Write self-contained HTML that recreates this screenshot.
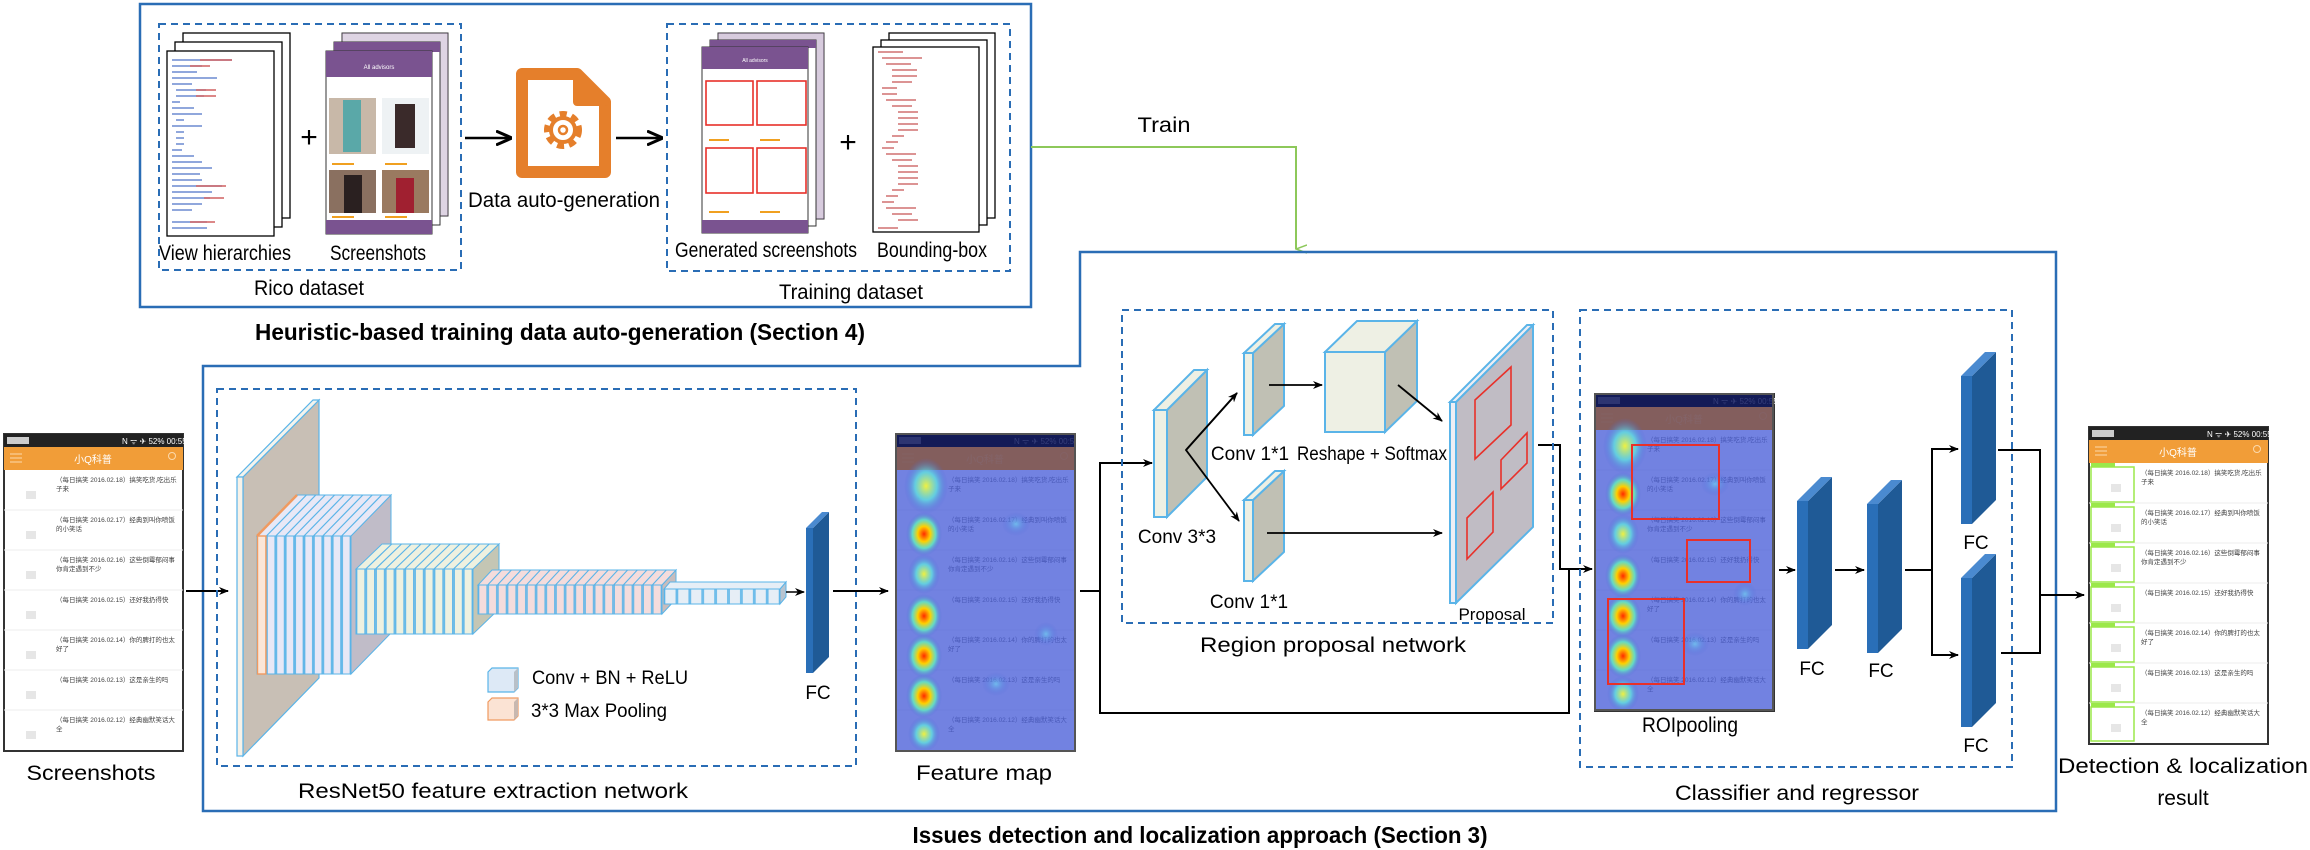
<!DOCTYPE html>
<html><head><meta charset="utf-8">
<style>
html,body{margin:0;padding:0;background:#fff;}
svg{display:block;}
text{font-family:"Liberation Sans","Noto Sans CJK SC",sans-serif;fill:#000;}
.lbl{font-size:21px;}
.pt{font-size:6.5px;fill:#444;font-family:"Liberation Sans","Noto Sans CJK SC",sans-serif;}
</style></head><body>
<svg width="2310" height="850" viewBox="0 0 2310 850" xmlns="http://www.w3.org/2000/svg">
<defs>
<marker id="ah" markerWidth="10" markerHeight="10" refX="9" refY="5" orient="auto" markerUnits="userSpaceOnUse">
<path d="M0,1 L10,5 L0,9 L3,5 z" fill="#000"/></marker>
<marker id="ahb" markerWidth="16" markerHeight="16" refX="15" refY="8" orient="auto" markerUnits="userSpaceOnUse">
<path d="M0,1 L16,8 L0,15" fill="none" stroke="#000" stroke-width="3"/></marker>
<marker id="ahg" markerWidth="10" markerHeight="12" refX="5" refY="11" orient="auto" markerUnits="userSpaceOnUse">
<path d="M1,0 L5,11 L9,0" fill="none" stroke="#8dc85a" stroke-width="1.5"/></marker>
<pattern id="p2" patternUnits="userSpaceOnUse" x="257" y="0" width="9.4" height="1000"><rect x="0" y="0" width="9.4" height="1000" fill="#e8e8f6"/><path d="M0.7,0V1000M8.7,0V1000" stroke="#5ab4e8" stroke-width="1.3"/></pattern>
<pattern id="p3" patternUnits="userSpaceOnUse" x="356" y="0" width="9.75" height="1000"><rect x="0" y="0" width="9.75" height="1000" fill="#eef1e0"/><path d="M0.7,0V1000M9,0V1000" stroke="#5ab4e8" stroke-width="1.3"/></pattern>
<pattern id="p4" patternUnits="userSpaceOnUse" x="478" y="0" width="9.68" height="1000"><rect x="0" y="0" width="9.68" height="1000" fill="#f4dcdc"/><path d="M0.7,0V1000M9,0V1000" stroke="#5ab4e8" stroke-width="1.2"/></pattern>
<pattern id="p5" patternUnits="userSpaceOnUse" x="664" y="0" width="12.9" height="1000"><rect x="0" y="0" width="12.9" height="1000" fill="#e6eef6"/><path d="M0.7,0V1000M12.2,0V1000" stroke="#5ab4e8" stroke-width="1.2"/></pattern>
<radialGradient id="hot"><stop offset="0" stop-color="#ff2a00"/><stop offset="0.35" stop-color="#ffd000"/><stop offset="0.65" stop-color="#60f0c0" stop-opacity="0.8"/><stop offset="1" stop-color="#4a5fd8" stop-opacity="0"/></radialGradient>
<radialGradient id="warm"><stop offset="0" stop-color="#f0f040"/><stop offset="0.5" stop-color="#60e0e0" stop-opacity="0.8"/><stop offset="1" stop-color="#4a5fd8" stop-opacity="0"/></radialGradient>
<radialGradient id="cool"><stop offset="0" stop-color="#70c8f0" stop-opacity="0.8"/><stop offset="1" stop-color="#4a5fd8" stop-opacity="0"/></radialGradient>

<g id="phone">
<rect x="0" y="0" width="179" height="317" fill="#fff" stroke="#333" stroke-width="2"/>
<rect x="0" y="0" width="179" height="13" fill="#222"/>
<rect x="3" y="3" width="22" height="7" fill="#ccc"/>
<text x="118" y="10" style="font-size:8px;fill:#fff">N ᯤ ✈ 52%  00:55</text>
<rect x="0" y="13" width="179" height="23" fill="#f19d38"/>
<text x="89" y="29" text-anchor="middle" style="font-size:10px;fill:#fff">小Q科普</text>
<path d="M6,20h12M6,24h12M6,28h12" stroke="#fbd9ac" stroke-width="1"/>
<circle cx="168" cy="22" r="3.5" fill="none" stroke="#fbd9ac"/>
<g stroke="#eee"><path d="M0,76h179M0,116h179M0,156h179M0,196h179M0,236h179M0,276h179"/></g>
<g fill="#e6e6e6"><rect x="22" y="57" width="10" height="8"/><rect x="22" y="97" width="10" height="8"/><rect x="22" y="137" width="10" height="8"/><rect x="22" y="177" width="10" height="8"/><rect x="22" y="217" width="10" height="8"/><rect x="22" y="257" width="10" height="8"/><rect x="22" y="297" width="10" height="8"/></g>
<text class="pt" x="52" y="48">（每日搞笑 2016.02.18）搞笑吃货,吃出乐</text><text class="pt" x="52" y="57">子来</text>
<text class="pt" x="52" y="88">（每日搞笑 2016.02.17）经典到叫你喷饭</text><text class="pt" x="52" y="97">的小笑话</text>
<text class="pt" x="52" y="128">（每日搞笑 2016.02.16）这些倒霉郁闷事</text><text class="pt" x="52" y="137">你肯定遇到不少</text>
<text class="pt" x="52" y="168">（每日搞笑 2016.02.15）还好我扔得快</text>
<text class="pt" x="52" y="208">（每日搞笑 2016.02.14）你的脾打的也太</text><text class="pt" x="52" y="217">好了</text>
<text class="pt" x="52" y="248">（每日搞笑 2016.02.13）这是亲生的吗</text>
<text class="pt" x="52" y="288">（每日搞笑 2016.02.12）经典幽默笑话大</text><text class="pt" x="52" y="297">全</text>
</g>
<g id="heat">
<rect x="0" y="13" width="179" height="304" fill="#4a5fd8" opacity="0.78"/>
<rect x="0" y="0" width="179" height="13" fill="#101a60" opacity="0.85"/>
<rect x="0" y="13" width="179" height="23" fill="#8a5a40" opacity="0.75"/>
<ellipse cx="30" cy="52" rx="22" ry="28" fill="url(#warm)"/>
<ellipse cx="28" cy="100" rx="18" ry="22" fill="url(#hot)"/>
<ellipse cx="28" cy="140" rx="16" ry="20" fill="url(#warm)"/>
<ellipse cx="28" cy="182" rx="18" ry="22" fill="url(#hot)"/>
<ellipse cx="28" cy="222" rx="18" ry="22" fill="url(#hot)"/>
<ellipse cx="28" cy="262" rx="18" ry="22" fill="url(#hot)"/>
<ellipse cx="28" cy="300" rx="16" ry="18" fill="url(#warm)"/>
<ellipse cx="120" cy="90" rx="14" ry="12" fill="url(#cool)"/>
<ellipse cx="150" cy="200" rx="12" ry="12" fill="url(#cool)"/>
<ellipse cx="100" cy="250" rx="14" ry="12" fill="url(#cool)"/>
</g>
</defs>

<!-- TOP BOX -->
<rect x="140" y="4" width="891" height="303" fill="none" stroke="#2a6db5" stroke-width="2.5"/>
<rect x="159" y="24" width="302" height="246" fill="none" stroke="#2a6db5" stroke-width="2" stroke-dasharray="7,5"/>
<rect x="667" y="24" width="343" height="247" fill="none" stroke="#2a6db5" stroke-width="2" stroke-dasharray="7,5"/>
<rect x="183" y="33" width="107" height="185" fill="#fff" stroke="#000" stroke-width="1.3"/>
<rect x="175" y="42" width="107" height="185" fill="#fff" stroke="#000" stroke-width="1.3"/>
<rect x="167" y="51" width="107" height="185" fill="#fff" stroke="#000" stroke-width="1.3"/>
<g stroke-width="1.5">
<path d="M172,60h60M172,66h30M172,72h25M172,78h45M172,84h20M176,90h30M176,96h28M172,102h8M172,108h22M172,114h30M176,120h8M172,126h30M176,132h8M176,138h8M176,144h8M172,150h10M172,156h22M172,162h30M172,168h40M172,174h28M172,180h30M172,186h50M172,192h40M172,198h38M172,204h30M172,210h20M172,222h35M172,228h35" stroke="#6b8ad0"/>
<path d="M200,60h32M190,66h20M196,90h20M196,96h20M196,186h30M204,198h20M190,222h25" stroke="#d06060"/>
</g>
<rect x="342" y="33" width="106" height="183" fill="#fff" stroke="#333"/><rect x="342" y="33" width="106" height="183" fill="#7a5390" opacity="0.25"/>
<rect x="334" y="42" width="106" height="183" fill="#fff" stroke="#333"/><rect x="334" y="42" width="106" height="10" fill="#7a5390"/>
<rect x="326" y="51" width="106" height="183" fill="#fff" stroke="#333"/>
<rect x="326" y="51" width="106" height="26" fill="#7a5390"/>
<text x="379" y="69" text-anchor="middle" style="font-size:6px;fill:#fff">All advisors</text>
<rect x="326" y="220" width="106" height="14" fill="#7a5390"/>
<rect x="329" y="98" width="47" height="56" fill="#c8b8a8"/><rect x="343" y="100" width="18" height="52" fill="#5aa8a8"/>
<rect x="382" y="98" width="47" height="56" fill="#eef2f4"/><rect x="395" y="104" width="20" height="44" fill="#3a2a2a"/>
<rect x="329" y="170" width="47" height="43" fill="#8a7060"/><rect x="344" y="175" width="18" height="38" fill="#2a2020"/>
<rect x="382" y="170" width="47" height="43" fill="#9a7a60"/><rect x="396" y="178" width="18" height="35" fill="#a02030"/>
<g fill="#f0a020"><rect x="332" y="163" width="22" height="2"/><rect x="385" y="163" width="22" height="2"/><rect x="332" y="216" width="22" height="2"/><rect x="385" y="216" width="22" height="2"/></g>
<text x="309" y="147" text-anchor="middle" style="font-size:30px">+</text>
<line x1="465" y1="138" x2="511" y2="138" stroke="#000" stroke-width="2.5" marker-end="url(#ahb)"/>
<path d="M522,74 h55 l28,28 v70 h-83 z" fill="#fff" stroke="#e57f2b" stroke-width="12" stroke-linejoin="round"/>
<path d="M577,74 v28 h28 z" fill="#e57f2b" stroke="#e57f2b" stroke-width="8" stroke-linejoin="round"/>
<circle cx="563" cy="130" r="16" fill="none" stroke="#e57f2b" stroke-width="6" stroke-dasharray="7,5"/>
<circle cx="563" cy="130" r="12" fill="none" stroke="#e57f2b" stroke-width="4"/>
<circle cx="563" cy="130" r="4" fill="none" stroke="#e57f2b" stroke-width="2.5"/>
<line x1="616" y1="138" x2="662" y2="138" stroke="#000" stroke-width="2.5" marker-end="url(#ahb)"/>
<text class="lbl" x="564" y="207" text-anchor="middle" textLength="192" lengthAdjust="spacingAndGlyphs">Data auto-generation</text>
<rect x="718" y="33" width="106" height="186" fill="#fff" stroke="#333"/><rect x="718" y="33" width="106" height="186" fill="#7a5390" opacity="0.3"/>
<rect x="710" y="40" width="106" height="186" fill="#fff" stroke="#333"/><rect x="710" y="40" width="106" height="8" fill="#7a5390"/>
<rect x="702" y="47" width="106" height="186" fill="#fff" stroke="#333"/>
<rect x="702" y="47" width="106" height="22" fill="#7a5390"/>
<text x="755" y="62" text-anchor="middle" style="font-size:5px;fill:#fff">All advisors</text>
<rect x="702" y="220" width="106" height="13" fill="#7a5390"/>
<g fill="none" stroke="#e8302a" stroke-width="1.6"><rect x="706" y="81" width="47" height="44"/><rect x="757" y="81" width="49" height="44"/><rect x="706" y="148" width="47" height="45"/><rect x="757" y="148" width="49" height="45"/></g>
<g fill="#f0a020"><rect x="709" y="139" width="20" height="2"/><rect x="760" y="139" width="20" height="2"/><rect x="709" y="211" width="20" height="2"/><rect x="760" y="211" width="20" height="2"/></g>
<text x="848" y="152" text-anchor="middle" style="font-size:30px">+</text>
<rect x="889" y="33" width="106" height="185" fill="#fff" stroke="#000" stroke-width="1.3"/>
<rect x="881" y="40" width="106" height="185" fill="#fff" stroke="#000" stroke-width="1.3"/>
<rect x="873" y="47" width="106" height="185" fill="#fff" stroke="#000" stroke-width="1.3"/>
<path d="M878,52h25M882,58h40M886,64h25M892,70h25M892,76h25M892,82h20M882,88h15M882,94h15M886,100h30M892,106h20M898,112h20M898,118h20M898,124h20M898,130h20M892,136h12M886,142h12M882,148h12M886,154h30M892,160h20M898,166h20M898,172h20M898,178h20M898,184h20M892,190h12M886,196h12M882,202h12M886,208h30M892,214h20M898,220h20M878,228h20" stroke="#d07070" stroke-width="1.4"/>
<text class="lbl" x="766" y="257" text-anchor="middle" textLength="182" lengthAdjust="spacingAndGlyphs">Generated screenshots</text>
<text class="lbl" x="932" y="257" text-anchor="middle" textLength="110" lengthAdjust="spacingAndGlyphs">Bounding-box</text>
<text class="lbl" x="225" y="260" text-anchor="middle" textLength="132" lengthAdjust="spacingAndGlyphs">View hierarchies</text>
<text class="lbl" x="378" y="260" text-anchor="middle" textLength="96" lengthAdjust="spacingAndGlyphs">Screenshots</text>
<text class="lbl" x="309" y="295" text-anchor="middle" textLength="110" lengthAdjust="spacingAndGlyphs">Rico dataset</text>
<text class="lbl" x="851" y="299" text-anchor="middle" textLength="144" lengthAdjust="spacingAndGlyphs">Training dataset</text>
<text x="560" y="340" text-anchor="middle" style="font-size:23px;font-weight:bold" textLength="610" lengthAdjust="spacingAndGlyphs">Heuristic-based training data auto-generation (Section 4)</text>

<text class="lbl" x="1164" y="132" text-anchor="middle" textLength="53" lengthAdjust="spacingAndGlyphs">Train</text>
<path d="M1031,147 H1296 V249" fill="none" stroke="#8dc85a" stroke-width="2" marker-end="url(#ahg)"/>

<path d="M203,366 H1080 V252 H2056 V811 H203 Z" fill="none" stroke="#2a6db5" stroke-width="2.5"/>
<text x="1200" y="843" text-anchor="middle" style="font-size:23px;font-weight:bold" textLength="575" lengthAdjust="spacingAndGlyphs">Issues detection and localization approach (Section 3)</text>

<use href="#phone" x="4" y="434"/>
<text class="lbl" x="91" y="780" text-anchor="middle" textLength="129" lengthAdjust="spacingAndGlyphs">Screenshots</text>
<line x1="186" y1="591" x2="228" y2="591" stroke="#000" stroke-width="2" marker-end="url(#ah)"/>

<rect x="217" y="389" width="639" height="377" fill="none" stroke="#2a6db5" stroke-width="2" stroke-dasharray="7,5"/>
<text class="lbl" x="493" y="798" text-anchor="middle" textLength="390" lengthAdjust="spacingAndGlyphs">ResNet50 feature extraction network</text>
<polygon points="243,477 319,400 319,678 243,756" fill="#c8bfb5" stroke="#5ab4e8" stroke-width="1.2"/>
<polygon points="237,477 243,477 319,400 313,400" fill="#f4f4ee" stroke="#5ab4e8" stroke-width="1.2"/>
<rect x="237" y="477" width="6" height="279" fill="#f8f2e8" stroke="#5ab4e8" stroke-width="1.2"/>
<!-- group2 -->
<polygon points="351,536 391,495 391,633 351,674" fill="#c0bcc8" stroke="#5ab4e8" stroke-width="1"/>
<polygon points="257,536 351,536 391,495 297,495" fill="#e8e8f6" stroke="#5ab4e8" stroke-width="1"/>
<path d="M266.4,536L306.4,495M275.8,536L315.8,495M285.2,536L325.2,495M294.6,536L334.6,495M304,536L344,495M313.4,536L353.4,495M322.8,536L362.8,495M332.2,536L372.2,495M341.6,536L381.6,495" stroke="#5ab4e8" stroke-width="1.2"/>
<rect x="257" y="536" width="94" height="138" fill="url(#p2)" stroke="#5ab4e8" stroke-width="1"/>
<path d="M257,536L297,495" stroke="#f09a60" stroke-width="2.5"/>
<rect x="257.5" y="536" width="8.4" height="138" fill="#fbe6d8" stroke="#f09a60" stroke-width="1.4"/>
<!-- group3 -->
<polygon points="473,569 499,544 499,609 473,634" fill="#c4c6b4" stroke="#5ab4e8" stroke-width="1"/>
<polygon points="356,569 473,569 499,544 382,544" fill="#eef1e0" stroke="#5ab4e8" stroke-width="1"/>
<path d="M365.75,569l26,-25M375.5,569l26,-25M385.25,569l26,-25M395,569l26,-25M404.75,569l26,-25M414.5,569l26,-25M424.25,569l26,-25M434,569l26,-25M443.75,569l26,-25M453.5,569l26,-25M463.25,569l26,-25" stroke="#5ab4e8" stroke-width="1.2"/>
<rect x="356" y="569" width="117" height="65" fill="url(#p3)" stroke="#5ab4e8" stroke-width="1"/>
<!-- group4 -->
<polygon points="662,585 676,570 676,599 662,614" fill="#c8bcbc" stroke="#5ab4e8" stroke-width="1"/>
<polygon points="478,585 662,585 676,570 492,570" fill="#f4dcdc" stroke="#5ab4e8" stroke-width="1"/>
<path d="M487.7,585l14,-15M497.4,585l14,-15M507.1,585l14,-15M516.7,585l14,-15M526.4,585l14,-15M536.1,585l14,-15M545.8,585l14,-15M555.5,585l14,-15M565.2,585l14,-15M574.8,585l14,-15M584.5,585l14,-15M594.2,585l14,-15M603.9,585l14,-15M613.6,585l14,-15M623.3,585l14,-15M632.9,585l14,-15M642.6,585l14,-15M652.3,585l14,-15" stroke="#5ab4e8" stroke-width="1.1"/>
<rect x="478" y="585" width="184" height="29" fill="url(#p4)" stroke="#5ab4e8" stroke-width="1"/>
<!-- group5 -->
<polygon points="780,589 786,582 786,597 780,604" fill="#b8c4d0" stroke="#5ab4e8" stroke-width="1"/>
<polygon points="664,589 780,589 786,582 670,582" fill="#e6eef6" stroke="#5ab4e8" stroke-width="1"/>
<rect x="664" y="589" width="116" height="15" fill="url(#p5)" stroke="#5ab4e8" stroke-width="1"/>
<line x1="786" y1="592" x2="804" y2="592" stroke="#000" stroke-width="1.6" marker-end="url(#ah)"/>
<polygon points="813,528 829,512 829,657 813,673" fill="#1f5a96"/>
<polygon points="806,528 813,528 829,512 822,512" fill="#4a8ad0"/>
<rect x="806" y="528" width="7" height="145" fill="#2a6fb8"/>
<text x="818" y="699" text-anchor="middle" style="font-size:19px">FC</text>
<polygon points="488,672 492,668 518,668 518,688 514,692 488,692" fill="#dde9f6" stroke="#5ab4e8" stroke-width="1.2"/>
<polygon points="514,672 518,668 518,688 514,692" fill="#b8c0c8"/>
<polygon points="488,702 492,698 518,698 518,716 514,720 488,720" fill="#fbe3d4" stroke="#f09a60" stroke-width="1.2"/>
<polygon points="514,702 518,698 518,716 514,720" fill="#c8b8b0"/>
<text x="532" y="684" style="font-size:19px" textLength="156" lengthAdjust="spacingAndGlyphs">Conv + BN + ReLU</text>
<text x="531" y="717" style="font-size:19px" textLength="136" lengthAdjust="spacingAndGlyphs">3*3 Max Pooling</text>
<line x1="833" y1="591" x2="888" y2="591" stroke="#000" stroke-width="2" marker-end="url(#ah)"/>

<use href="#phone" x="896" y="434"/>
<use href="#heat" x="896" y="434"/>
<rect x="896" y="434" width="179" height="317" fill="none" stroke="#555" stroke-width="2"/>
<text class="lbl" x="984" y="780" text-anchor="middle" textLength="136" lengthAdjust="spacingAndGlyphs">Feature map</text>
<path d="M1080,591 H1100 V463 H1152" fill="none" stroke="#000" stroke-width="2" marker-end="url(#ah)"/>
<path d="M1100,591 V713 H1569 V569" fill="none" stroke="#000" stroke-width="2"/>
<path d="M1538,445 H1560 V569 H1592" fill="none" stroke="#000" stroke-width="2" marker-end="url(#ah)"/>

<rect x="1122" y="310" width="431" height="313" fill="none" stroke="#2a6db5" stroke-width="2" stroke-dasharray="7,5"/>
<text class="lbl" x="1333" y="652" text-anchor="middle" textLength="266" lengthAdjust="spacingAndGlyphs">Region proposal network</text>
<polygon points="1167,410 1207,370 1207,477 1167,517" fill="#c0c0b4" stroke="#5ab4e8" stroke-width="2"/>
<polygon points="1154,410 1167,410 1207,370 1194,370" fill="#eef0e4" stroke="#5ab4e8" stroke-width="2"/>
<rect x="1154" y="410" width="13" height="107" fill="#eef0e4" stroke="#5ab4e8" stroke-width="2"/>
<polygon points="1253,353 1284,324 1284,406 1253,435" fill="#c0c0b4" stroke="#5ab4e8" stroke-width="2"/>
<polygon points="1244,353 1253,353 1284,324 1275,324" fill="#eef0e4" stroke="#5ab4e8" stroke-width="2"/>
<rect x="1244" y="353" width="9" height="82" fill="#eef0e4" stroke="#5ab4e8" stroke-width="2"/>
<polygon points="1253,500 1284,471 1284,552 1253,581" fill="#c0c0b4" stroke="#5ab4e8" stroke-width="2"/>
<polygon points="1244,500 1253,500 1284,471 1275,471" fill="#eef0e4" stroke="#5ab4e8" stroke-width="2"/>
<rect x="1244" y="500" width="9" height="81" fill="#eef0e4" stroke="#5ab4e8" stroke-width="2"/>
<polygon points="1385,352 1417,321 1417,401 1385,432" fill="#c0c0b4" stroke="#5ab4e8" stroke-width="2"/>
<polygon points="1325,352 1385,352 1417,321 1357,321" fill="#eef0e4" stroke="#5ab4e8" stroke-width="2"/>
<rect x="1325" y="352" width="60" height="80" fill="#eef0e4" stroke="#5ab4e8" stroke-width="2"/>
<polygon points="1456,402 1533,325 1533,527 1456,603" fill="#c0bcc4" stroke="#5ab4e8" stroke-width="2"/>
<polygon points="1450,402 1456,402 1533,325 1527,325" fill="#eeeef4" stroke="#5ab4e8" stroke-width="2"/>
<rect x="1450" y="402" width="6" height="201" fill="#eeeef4" stroke="#5ab4e8" stroke-width="2"/>
<g fill="none" stroke="#e8302a" stroke-width="1.6">
<polygon points="1475,400 1511,367 1511,425 1475,459"/>
<polygon points="1501,460 1527,433 1527,463 1501,489"/>
<polygon points="1467,518 1493,492 1493,532 1467,559"/></g>
<g stroke="#000" stroke-width="1.8" fill="none">
<path d="M1237,393 L1186,450 L1239,521" marker-end="url(#ah)"/>
<path d="M1186,450 L1237,393" marker-end="url(#ah)"/>
<line x1="1269" y1="385" x2="1322" y2="385" marker-end="url(#ah)"/>
<line x1="1398" y1="385" x2="1442" y2="421" marker-end="url(#ah)"/>
<line x1="1267" y1="533" x2="1442" y2="533" marker-end="url(#ah)"/>
</g>
<text x="1250" y="460" text-anchor="middle" style="font-size:19px">Conv 1*1</text>
<text x="1372" y="460" text-anchor="middle" style="font-size:19px" textLength="150" lengthAdjust="spacingAndGlyphs">Reshape + Softmax</text>
<text x="1177" y="543" text-anchor="middle" style="font-size:19px">Conv 3*3</text>
<text x="1249" y="608" text-anchor="middle" style="font-size:19px">Conv 1*1</text>
<text x="1492" y="620" text-anchor="middle" style="font-size:17px">Proposal</text>

<rect x="1580" y="310" width="432" height="457" fill="none" stroke="#2a6db5" stroke-width="2" stroke-dasharray="7,5"/>
<text class="lbl" x="1797" y="800" text-anchor="middle" textLength="244" lengthAdjust="spacingAndGlyphs">Classifier and regressor</text>
<use href="#phone" x="1595" y="394"/>
<use href="#heat" x="1595" y="394"/>
<rect x="1595" y="394" width="178" height="316" fill="none" stroke="#555" stroke-width="2"/>
<g fill="none" stroke="#e8302a" stroke-width="2"><rect x="1632" y="445" width="87" height="74"/><rect x="1687" y="540" width="63" height="42"/><rect x="1608" y="599" width="76" height="85"/></g>
<text class="lbl" x="1690" y="732" text-anchor="middle" textLength="96" lengthAdjust="spacingAndGlyphs">ROIpooling</text>
<g>
<polygon points="1808,501 1832,477 1832,625 1808,649" fill="#1f5a96"/><polygon points="1797,501 1808,501 1832,477 1821,477" fill="#4a8ad0"/><rect x="1797" y="501" width="11" height="148" fill="#2a6fb8"/>
<polygon points="1878,504 1902,480 1902,629 1878,653" fill="#1f5a96"/><polygon points="1867,504 1878,504 1902,480 1891,480" fill="#4a8ad0"/><rect x="1867" y="504" width="11" height="149" fill="#2a6fb8"/>
<polygon points="1972,376 1996,352 1996,500 1972,524" fill="#1f5a96"/><polygon points="1961,376 1972,376 1996,352 1985,352" fill="#4a8ad0"/><rect x="1961" y="376" width="11" height="148" fill="#2a6fb8"/>
<polygon points="1972,578 1996,554 1996,703 1972,727" fill="#1f5a96"/><polygon points="1961,578 1972,578 1996,554 1985,554" fill="#4a8ad0"/><rect x="1961" y="578" width="11" height="149" fill="#2a6fb8"/>
</g>
<text x="1812" y="675" text-anchor="middle" style="font-size:19px">FC</text>
<text x="1881" y="677" text-anchor="middle" style="font-size:19px">FC</text>
<text x="1976" y="549" text-anchor="middle" style="font-size:19px">FC</text>
<text x="1976" y="752" text-anchor="middle" style="font-size:19px">FC</text>
<g stroke="#000" stroke-width="2" fill="none">
<line x1="1779" y1="570" x2="1795" y2="570" marker-end="url(#ah)"/>
<line x1="1835" y1="570" x2="1864" y2="570" marker-end="url(#ah)"/>
<path d="M1905,570 H1932"/>
<path d="M1957,449 H1932 V655 H1957"/>
<line x1="1932" y1="449" x2="1958" y2="449" marker-end="url(#ah)"/>
<line x1="1932" y1="655" x2="1958" y2="655" marker-end="url(#ah)"/>
<path d="M1998,450 H2040 V653 H2001"/>
<line x1="2040" y1="595" x2="2084" y2="595" marker-end="url(#ah)"/>
</g>

<use href="#phone" x="2089" y="427"/>
<g fill="none" stroke="#9be84a" stroke-width="1.5">
<rect x="2091" y="467" width="43" height="35"/><rect x="2091" y="507" width="43" height="35"/><rect x="2091" y="547" width="43" height="35"/><rect x="2091" y="587" width="43" height="35"/><rect x="2091" y="627" width="43" height="35"/><rect x="2091" y="667" width="43" height="35"/><rect x="2091" y="707" width="43" height="34"/></g>
<g fill="#9be84a"><rect x="2091" y="463" width="24" height="4"/><rect x="2091" y="503" width="24" height="4"/><rect x="2091" y="543" width="24" height="4"/><rect x="2091" y="583" width="24" height="4"/><rect x="2091" y="623" width="24" height="4"/><rect x="2091" y="663" width="24" height="4"/><rect x="2091" y="703" width="24" height="4"/></g>
<text class="lbl" x="2183" y="773" text-anchor="middle" textLength="250" lengthAdjust="spacingAndGlyphs">Detection &amp; localization</text>
<text class="lbl" x="2183" y="805" text-anchor="middle">result</text>
</svg>
</body></html>
